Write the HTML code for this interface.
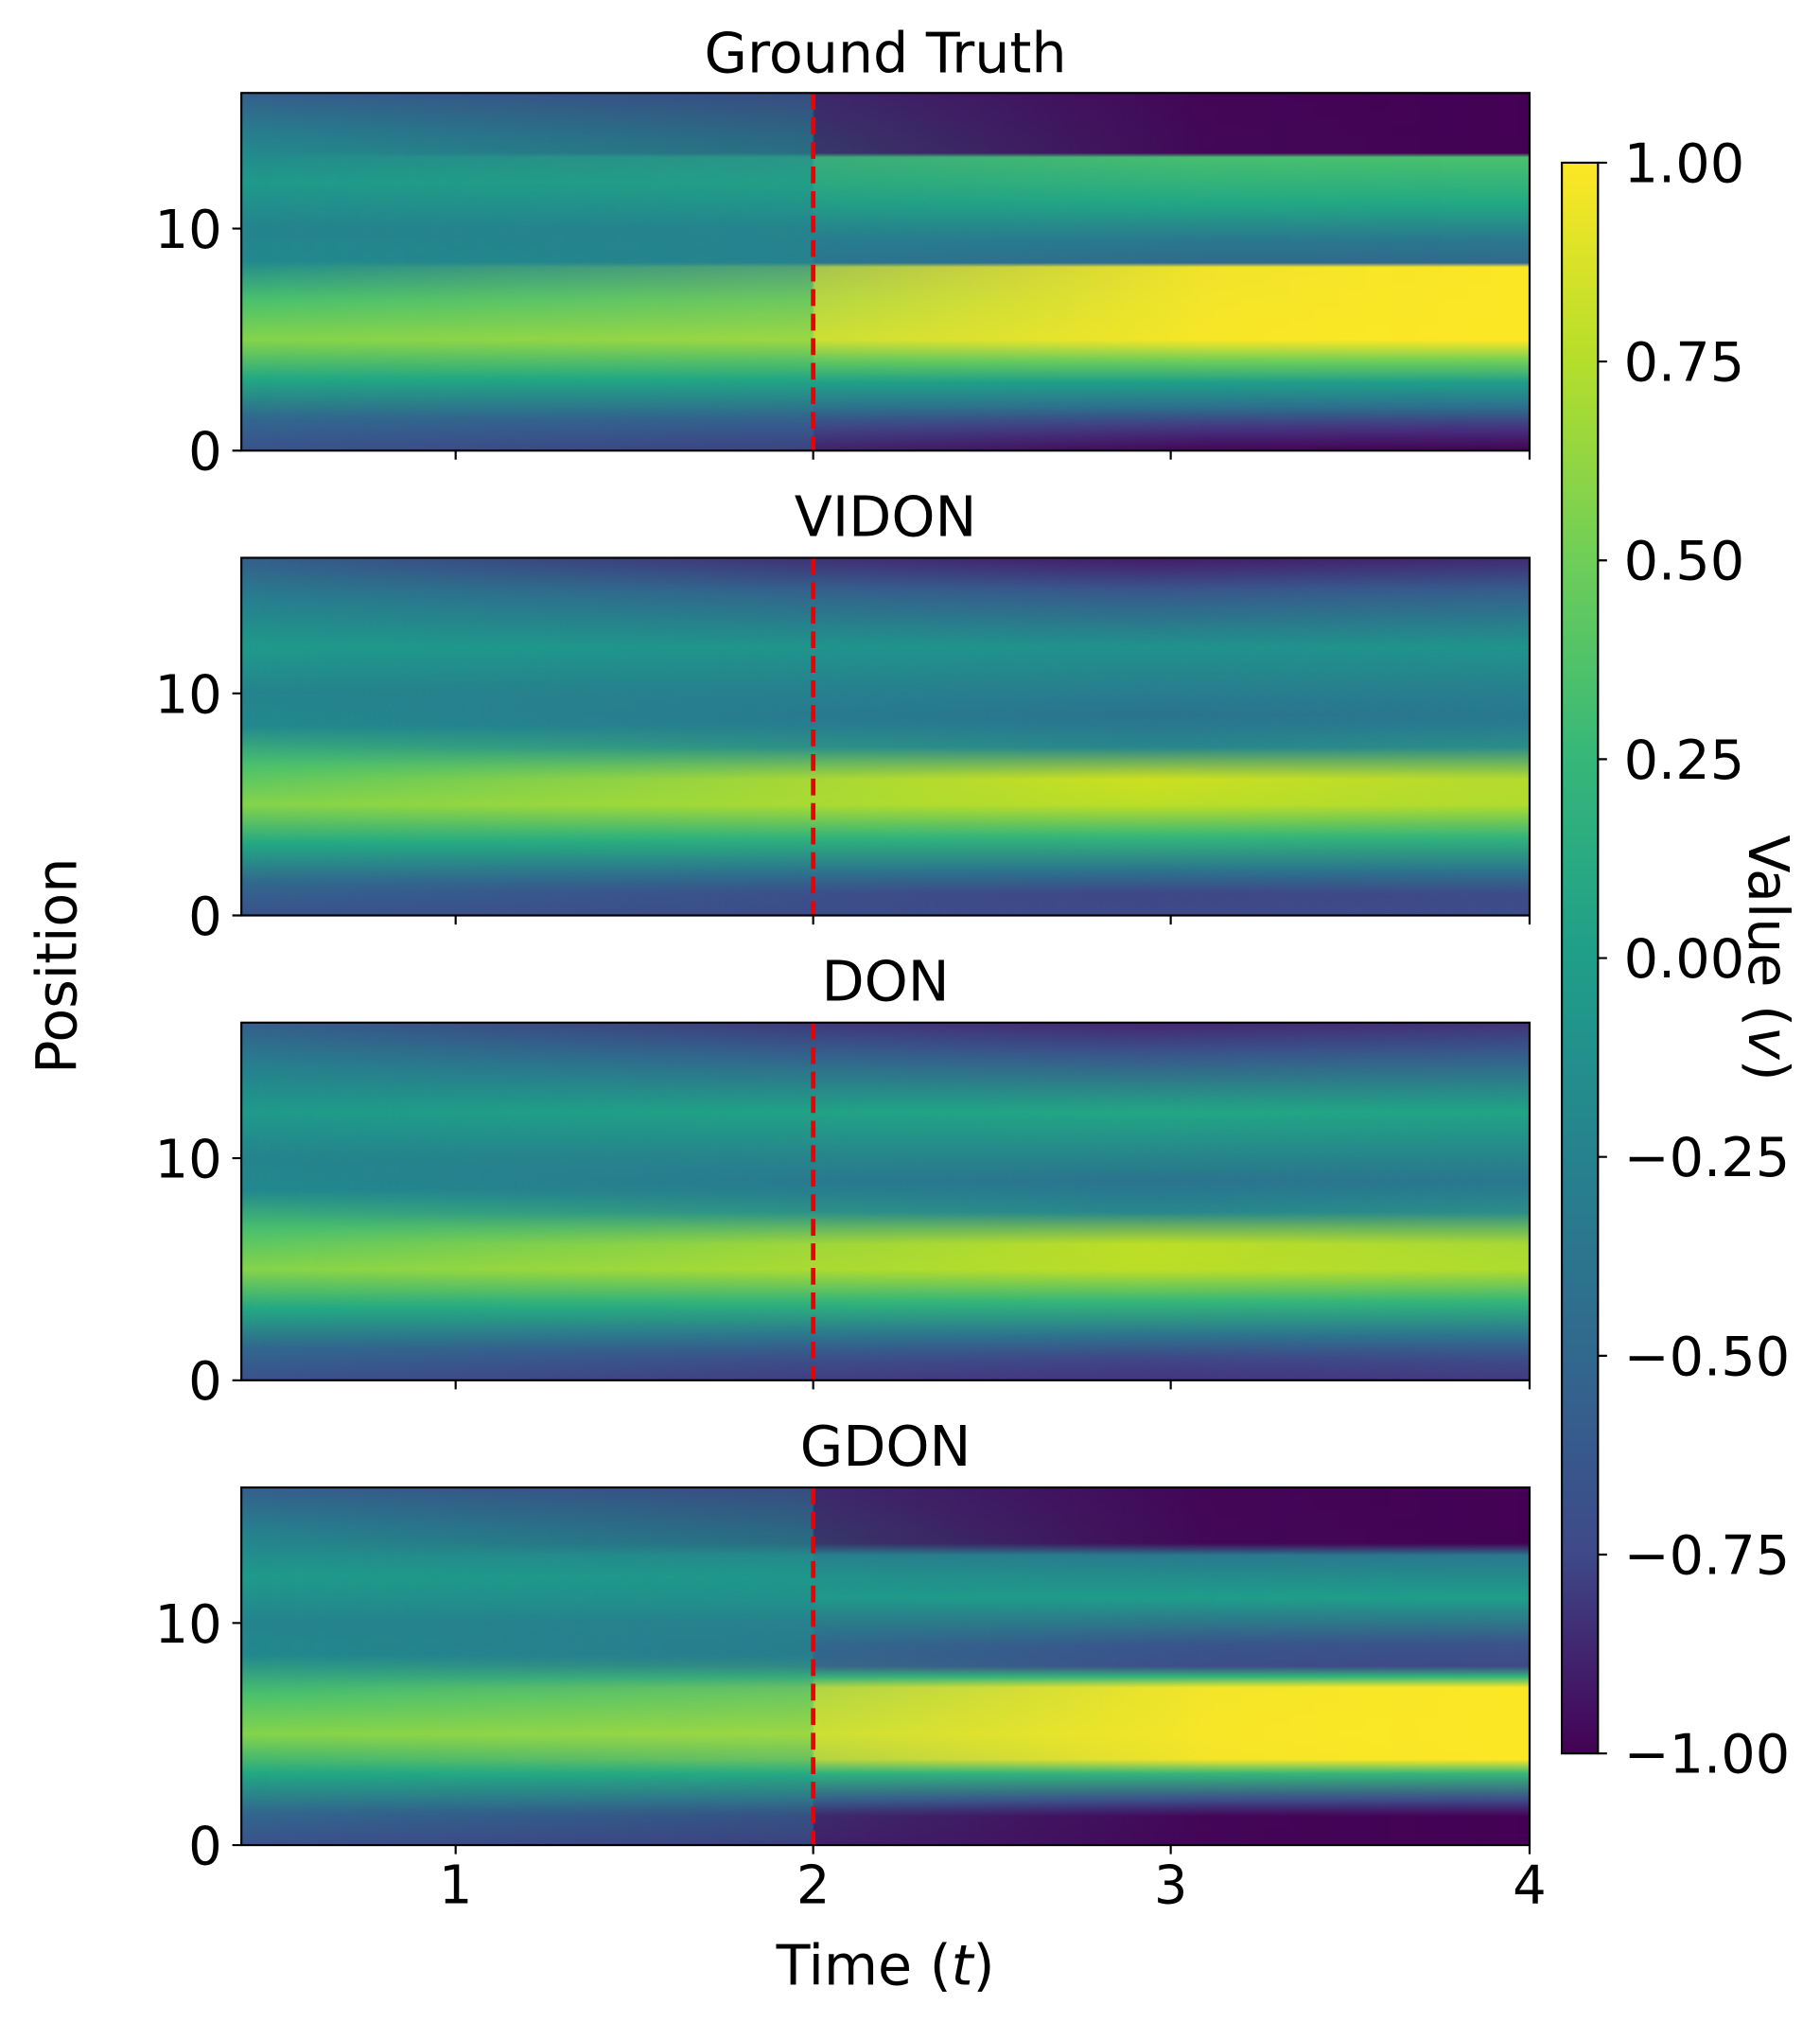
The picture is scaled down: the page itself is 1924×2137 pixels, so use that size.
<!DOCTYPE html>
<html><head><meta charset="utf-8"><style>
html,body{margin:0;padding:0;background:#fff;}
svg{display:block;}
text{font-family:"DejaVu Sans","Liberation Sans",sans-serif;fill:#000;}
</style></head><body>
<svg width="1924" height="2137" viewBox="0 0 1410 1566" preserveAspectRatio="none" xmlns="http://www.w3.org/2000/svg">
<defs>
<linearGradient id="e1" x1="0" y1="0" x2="0" y2="1">
<stop offset="0" stop-color="#355f8d"/><stop offset="0.125" stop-color="#26818e"/><stop offset="0.25" stop-color="#1f9a8a"/>
<stop offset="0.375" stop-color="#25848e"/><stop offset="0.47" stop-color="#23898e"/><stop offset="0.58" stop-color="#4ac16d"/>
<stop offset="0.69" stop-color="#84d44b"/><stop offset="0.8" stop-color="#22a884"/><stop offset="0.91" stop-color="#31688e"/>
<stop offset="1" stop-color="#3b528b"/></linearGradient>
<linearGradient id="g1" x1="0" y1="0" x2="0" y2="1">
<stop offset="0" stop-color="#440154"/><stop offset="0.168" stop-color="#440154"/><stop offset="0.18" stop-color="#4ac16d"/>
<stop offset="0.31" stop-color="#22a884"/><stop offset="0.41" stop-color="#2a788e"/><stop offset="0.475" stop-color="#31688e"/>
<stop offset="0.487" stop-color="#fde725"/><stop offset="0.69" stop-color="#fde725"/><stop offset="0.75" stop-color="#6ece58"/>
<stop offset="0.81" stop-color="#1f9e89"/><stop offset="0.875" stop-color="#2c728e"/><stop offset="0.94" stop-color="#46307e"/>
<stop offset="1" stop-color="#440154"/></linearGradient>
<linearGradient id="v1" x1="0" y1="0" x2="0" y2="1">
<stop offset="0" stop-color="#471365"/><stop offset="0.09" stop-color="#3b528b"/><stop offset="0.25" stop-color="#21918c"/>
<stop offset="0.44" stop-color="#2c728e"/><stop offset="0.53" stop-color="#26828e"/><stop offset="0.62" stop-color="#d8e219"/>
<stop offset="0.69" stop-color="#c2df23"/><stop offset="0.78" stop-color="#35b779"/><stop offset="0.875" stop-color="#2c728e"/>
<stop offset="0.94" stop-color="#414487"/><stop offset="1" stop-color="#3e4a89"/></linearGradient>
<linearGradient id="d1" x1="0" y1="0" x2="0" y2="1">
<stop offset="0" stop-color="#46206f"/><stop offset="0.09" stop-color="#3b528b"/><stop offset="0.25" stop-color="#22a884"/>
<stop offset="0.44" stop-color="#2c728e"/><stop offset="0.53" stop-color="#26828e"/><stop offset="0.62" stop-color="#c8e020"/>
<stop offset="0.69" stop-color="#c2df23"/><stop offset="0.78" stop-color="#35b779"/><stop offset="0.875" stop-color="#2c728e"/>
<stop offset="0.94" stop-color="#414487"/><stop offset="1" stop-color="#46307e"/></linearGradient>
<linearGradient id="n1" x1="0" y1="0" x2="0" y2="1">
<stop offset="0" stop-color="#440154"/><stop offset="0.156" stop-color="#440154"/><stop offset="0.19" stop-color="#2a788e"/>
<stop offset="0.31" stop-color="#1f9e89"/><stop offset="0.44" stop-color="#3b528b"/><stop offset="0.5" stop-color="#3e4a89"/>
<stop offset="0.53" stop-color="#35b779"/><stop offset="0.56" stop-color="#fde725"/><stop offset="0.76" stop-color="#fde725"/>
<stop offset="0.8" stop-color="#35b779"/><stop offset="0.875" stop-color="#3e4989"/><stop offset="0.92" stop-color="#440154"/>
<stop offset="1" stop-color="#440154"/></linearGradient>
<linearGradient id="mg" x1="187" y1="0" x2="1185" y2="0" gradientUnits="userSpaceOnUse">
<stop offset="0" stop-color="#fff" stop-opacity="0"/><stop offset="0.443" stop-color="#fff" stop-opacity="0.2"/>
<stop offset="0.445" stop-color="#fff" stop-opacity="0.6"/><stop offset="0.75" stop-color="#fff" stop-opacity="0.95"/><stop offset="1" stop-color="#fff" stop-opacity="1"/></linearGradient>
<linearGradient id="mv" x1="187" y1="0" x2="1185" y2="0" gradientUnits="userSpaceOnUse">
<stop offset="0" stop-color="#fff" stop-opacity="0"/><stop offset="0.44" stop-color="#fff" stop-opacity="0.6"/>
<stop offset="0.7" stop-color="#fff" stop-opacity="0.9"/><stop offset="1" stop-color="#fff" stop-opacity="0.7"/></linearGradient>
<mask id="mG"><rect x="0" y="0" width="1410" height="1566" fill="url(#mg)"/></mask>
<mask id="mV"><rect x="0" y="0" width="1410" height="1566" fill="url(#mv)"/></mask>
<linearGradient id="cb" x1="0" y1="0" x2="0" y2="1">
<stop offset="0" stop-color="#fde725"/><stop offset="0.125" stop-color="#b5de2b"/><stop offset="0.25" stop-color="#6ece58"/>
<stop offset="0.375" stop-color="#35b779"/><stop offset="0.5" stop-color="#1f9e89"/><stop offset="0.625" stop-color="#26828e"/>
<stop offset="0.75" stop-color="#31688e"/><stop offset="0.875" stop-color="#3e4989"/><stop offset="1" stop-color="#440154"/></linearGradient>
</defs>

<g>
<rect x="187" y="72" width="998" height="277" fill="url(#e1)"/>
<rect x="187" y="72" width="998" height="277" fill="url(#g1)" mask="url(#mG)"/>
<rect x="187" y="432" width="998" height="277" fill="url(#e1)"/>
<rect x="187" y="432" width="998" height="277" fill="url(#v1)" mask="url(#mV)"/>
<rect x="187" y="792" width="998" height="277" fill="url(#e1)"/>
<rect x="187" y="792" width="998" height="277" fill="url(#d1)" mask="url(#mV)"/>
<rect x="187" y="1152" width="998" height="277" fill="url(#e1)"/>
<rect x="187" y="1152" width="998" height="277" fill="url(#n1)" mask="url(#mG)"/>
</g>
<g stroke="#e00" stroke-width="3.5" stroke-dasharray="13,6">
<line x1="630" y1="72" x2="630" y2="349"/><line x1="630" y1="432" x2="630" y2="709"/>
<line x1="630" y1="792" x2="630" y2="1069"/><line x1="630" y1="1152" x2="630" y2="1429"/>
</g>
<g fill="none" stroke="#000" stroke-width="1.6">
<rect x="187" y="72" width="998" height="277"/><rect x="187" y="432" width="998" height="277"/>
<rect x="187" y="792" width="998" height="277"/><rect x="187" y="1152" width="998" height="277"/>
</g>
<g stroke="#000" stroke-width="1.6">
<path d="M353 349v7M630 349v7M907 349v7M1185 349v7M353 709v7M630 709v7M907 709v7M1185 709v7M353 1069v7M630 1069v7M907 1069v7M1185 1069v7M353 1429v7M630 1429v7M907 1429v7M1185 1429v7"/>
<path d="M180 177h7M180 349h7M180 537h7M180 709h7M180 897h7M180 1069h7M180 1257h7M180 1429h7"/>
</g>
<g font-size="41" text-anchor="end">
<text x="172" y="192">10</text><text x="172" y="364">0</text>
<text x="172" y="552">10</text><text x="172" y="724">0</text>
<text x="172" y="912">10</text><text x="172" y="1084">0</text>
<text x="172" y="1272">10</text><text x="172" y="1444">0</text>
</g>
<g font-size="41" text-anchor="middle">
<text x="353" y="1474">1</text><text x="630" y="1474">2</text><text x="907" y="1474">3</text><text x="1185" y="1474">4</text>
</g>
<g font-size="43" text-anchor="middle">
<text x="686" y="56">Ground Truth</text><text x="686" y="415">VIDON</text>
<text x="686" y="775">DON</text><text x="686" y="1135">GDON</text>
<text x="686" y="1537">Time (<tspan font-style="italic">t</tspan>)</text>
<text transform="translate(59 748) rotate(-90)">Position</text>
<text transform="translate(1355 742) rotate(90)">Value (<tspan font-style="italic">v</tspan>)</text>
</g>
<rect x="1210" y="126" width="28" height="1232" fill="url(#cb)" stroke="#000" stroke-width="1.6"/>
<g stroke="#000" stroke-width="1.6">
<path d="M1238 126h7M1238 280h7M1238 434h7M1238 588h7M1238 742h7M1238 896h7M1238 1050h7M1238 1204h7M1238 1358h7"/>
</g>
<g font-size="42">
<text x="1258" y="141">1.00</text><text x="1258" y="295">0.75</text><text x="1258" y="449">0.50</text>
<text x="1258" y="603">0.25</text><text x="1258" y="757">0.00</text><text x="1258" y="911">−0.25</text>
<text x="1258" y="1065">−0.50</text><text x="1258" y="1219">−0.75</text><text x="1258" y="1373">−1.00</text>
</g>
</svg>
</body></html>
